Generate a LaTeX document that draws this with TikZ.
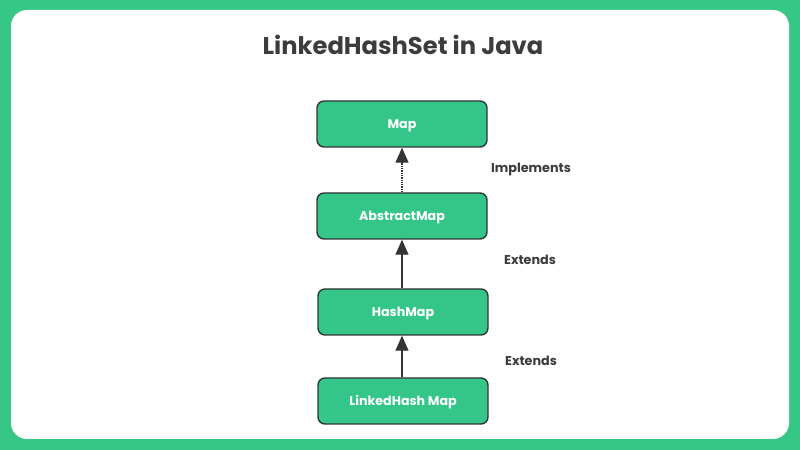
\documentclass[tikz,border=0pt]{standalone}
\usepackage{fontspec}
\setmainfont{Poppins}
\usetikzlibrary{arrows.meta}
\definecolor{gfgreen}{HTML}{36C685}
\definecolor{boxgreen}{HTML}{34C589}
\definecolor{darkline}{HTML}{353535}
\definecolor{textgray}{HTML}{3C3C3C}
\begin{document}
\begin{tikzpicture}[x=1bp,y=1bp,>={Triangle[width=13bp,length=15bp]},
	box/.style={draw=darkline,line width=1.4bp,fill=boxgreen,rounded corners=7bp,minimum width=170bp,minimum height=46bp,inner sep=0pt,text height=9bp,text depth=0bp,text=white,font=\fontsize{12.7}{14}\selectfont\bfseries},
	lbl/.style={text=textgray,font=\fontsize{12.8}{14}\selectfont\bfseries}]
	\fill[gfgreen] (0,0) rectangle (800,450);
	\fill[white,rounded corners=16bp] (11,11) rectangle (789,440);
	\useasboundingbox (0,0) rectangle (800,450);
	\node[text=textgray,font=\fontsize{24.3}{28}\selectfont\bfseries] (title) at (403,405) {LinkedHashSet in Java};
	% boxes
	\node[box] (map) at (402,326) {Map};
	\node[box] (abs) at (402,234) {AbstractMap};
	\node[box] (hash) at (403,138) {HashMap};
	\node[box] (lhm) at (403,49) {LinkedHash Map};
	% connectors
	\draw[->,darkline,line width=1.3bp,densely dotted] (abs) -- (map);
	\draw[->,darkline,line width=1.3bp] (hash.north -| abs) -- (abs);
	\draw[->,darkline,line width=1.3bp] (lhm.north -| abs) -- (hash.south -| abs);
	\node[lbl] (impl) at (531,281) {Implements};
	\node[lbl] (ext1) at (530,190) {Extends};
	\node[lbl] (ext2) at (531,89) {Extends};
\end{tikzpicture}
\end{document}
